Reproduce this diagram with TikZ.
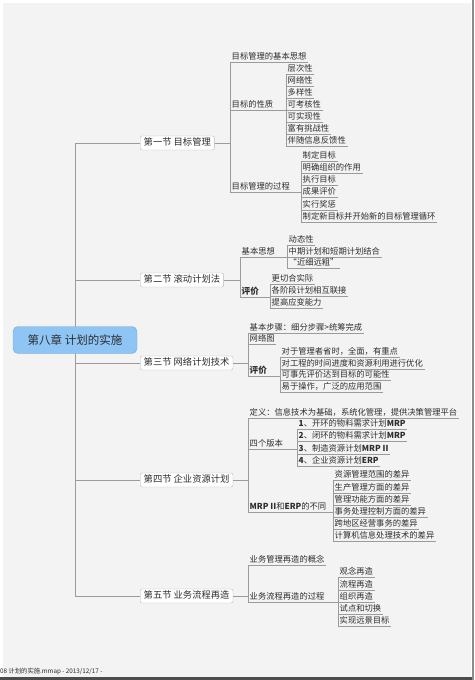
\documentclass[tikz,border=0pt]{standalone}
\usepackage{fontspec}
\setmainfont{Noto Sans CJK SC}
\definecolor{bggray}{RGB}{243,243,243}
\definecolor{linecol}{RGB}{155,155,155}
\definecolor{txt}{RGB}{45,45,45}
\definecolor{rootblue}{RGB}{142,197,245}
\definecolor{boxline}{RGB}{185,185,185}
\begin{document}
\begin{tikzpicture}[x=1pt, y=-1pt,
    link/.style={draw=linecol, line width=0.6pt},
    topic/.style={font=\fontsize{8.3}{10}\selectfont, text=txt, anchor=south west,
        inner xsep=1.5pt, inner ysep=1pt, text height=6.5pt, text depth=1.6pt,
        append after command={\pgfextra{\let\ulnode\tikzlastnode}
            (\ulnode.south west) edge[link] (\ulnode.south east)}},
    pingjia/.style={topic, font=\fontsize{8.6}{10}\selectfont\bfseries},
    section/.style={draw=boxline, fill=white, rounded corners=2pt, text=txt, anchor=west,
        font=\fontsize{9.3}{11}\selectfont, inner xsep=3.5pt, inner ysep=2.5pt,
        text height=7pt, text depth=2pt}]
    \useasboundingbox (0,0) rectangle (474,680);
    % page
    \fill[white] (0,0) rectangle (474,680);
    \fill[bggray] (3,3) rectangle (471,677);
    \fill[black!70] (0,677) rectangle (474,680);
    \fill[black!45] (472,0) rectangle (474,680);
    \node[anchor=west, inner sep=0pt, font=\fontsize{6.3}{7}\selectfont, text=txt] (foot) at (0,672) {08 计划的实施.mmap - 2013/12/17 -};

    % sections
    \node[section] (s1) at (140,143) {第一节 目标管理};
    \node[section] (s2) at (140,280) {第二节 滚动计划法};
    \node[section] (s3) at (140,363) {第三节 网络计划技术};
    \node[section] (s4) at (140,480) {第四节 企业资源计划};
    \node[section] (s5) at (140,596) {第五节 业务流程再造};

    % section 1
    \node[topic] (s1a) at (230,62) {目标管理的基本思想};
    \node[topic] (s1b) at (230,110) {目标的性质};
    \node[topic] (s1c) at (230,192) {目标管理的过程};
    \node[topic] (s1b1) at (286,74) {层次性};
    \node[topic] (s1b2) at (286,86) {网络性};
    \node[topic] (s1b3) at (286,98) {多样性};
    \node[topic] (s1b4) at (286,110) {可考核性};
    \node[topic] (s1b5) at (286,122) {可实现性};
    \node[topic] (s1b6) at (286,134) {富有挑战性};
    \node[topic] (s1b7) at (286,146) {伴随信息反馈性};
    \node[topic] (s1c1) at (301,161) {制定目标};
    \node[topic] (s1c2) at (301,173) {明确组织的作用};
    \node[topic] (s1c3) at (301,185.5) {执行目标};
    \node[topic] (s1c4) at (301,197.5) {成果评价};
    \node[topic] (s1c5) at (301,210) {实行奖惩};
    \node[topic] (s1c6) at (301,222) {制定新目标并开始新的目标管理循环};

    % section 2
    \node[topic] (s2a) at (240,257) {基本思想};
    \node[pingjia] (s2b) at (240,297.5) {评价};
    \node[topic] (s2a1) at (287,245.5) {动态性};
    \node[topic] (s2a2) at (287,257) {中期计划和短期计划结合};
    \node[topic] (s2a3) at (287,268.5) {“近细远粗”};
    \node[topic] (s2b1) at (270,284.5) {更切合实际};
    \node[topic] (s2b2) at (270,296.5) {各阶段计划相互联接};
    \node[topic] (s2b3) at (270,308) {提高应变能力};

    % section 3
    \node[topic] (s3a) at (248,333) {基本步骤：细分步骤>统筹完成};
    \node[topic] (s3b) at (248,344.5) {网络图};
    \node[pingjia] (s3c) at (248,376) {评价};
    \node[topic] (s3c1) at (280,357.5) {对于管理者省时，全面，有重点};
    \node[topic] (s3c2) at (280,369) {对工程的时间进度和资源利用进行优化};
    \node[topic] (s3c3) at (280,380.5) {可事先评价达到目标的可能性};
    \node[topic] (s3c4) at (280,392) {易于操作，广泛的应用范围};

    % section 4
    \node[topic] (s4a) at (248,418) {定义：信息技术为基础，系统化管理，提供决策管理平台};
    \node[topic] (s4b) at (248,449) {四个版本};
    \node[topic] (s4c) at (248,512.5) {\textbf{MRP II}和\textbf{ERP}的不同};
    \node[topic] (s4b1) at (297,429.5) {\textbf{1}、开环的物料需求计划\textbf{MRP}};
    \node[topic] (s4b2) at (297,441.7) {\textbf{2}、闭环的物料需求计划\textbf{MRP}};
    \node[topic] (s4b3) at (297,453.9) {\textbf{3}、制造资源计划\textbf{MRP II}};
    \node[topic] (s4b4) at (297,466) {\textbf{4}、企业资源计划\textbf{ERP}};
    \node[topic] (s4c1) at (333,480.7) {资源管理范围的差异};
    \node[topic] (s4c2) at (333,492.8) {生产管理方面的差异};
    \node[topic] (s4c3) at (333,504.9) {管理功能方面的差异};
    \node[topic] (s4c4) at (333,517) {事务处理控制方面的差异};
    \node[topic] (s4c5) at (333,529.1) {跨地区经营事务的差异};
    \node[topic] (s4c6) at (333,541.2) {计算机信息处理技术的差异};

    % section 5
    \node[topic] (s5a) at (248,565.7) {业务管理再造的概念};
    \node[topic] (s5b) at (248,602.3) {业务流程再造的过程};
    \node[topic] (s5b1) at (338,577.7) {观念再造};
    \node[topic] (s5b2) at (338,589.8) {流程再造};
    \node[topic] (s5b3) at (338,601.9) {组织再造};
    \node[topic] (s5b4) at (338,614) {试点和切换};
    \node[topic] (s5b5) at (338,626.1) {实现远景目标};

    % connectors
    \foreach \c in {s1a,s1b,s1c} \draw[link] (s1.east) -- (s1.east -| \c.south west) -- (\c.south west);
    \foreach \c in {s2a,s2b} \draw[link] (s2.east) -- (s2.east -| \c.south west) -- (\c.south west);
    \foreach \c in {s3a,s3b,s3c} \draw[link] (s3.east) -- (s3.east -| \c.south west) -- (\c.south west);
    \foreach \c in {s4a,s4b,s4c} \draw[link] (s4.east) -- (s4.east -| \c.south west) -- (\c.south west);
    \foreach \c in {s5a,s5b} \draw[link] (s5.east) -- (s5.east -| \c.south west) -- (\c.south west);
    \foreach \i in {1,...,7} \draw[link] (s1b.south east) -- (s1b.south east -| s1b\i.south west) -- (s1b\i.south west);
    \foreach \i in {1,...,6} \draw[link] (s1c.south east) -- (s1c.south east -| s1c\i.south west) -- (s1c\i.south west);
    \foreach \i in {1,2,3} \draw[link] (s2a.south east) -- (s2a.south east -| s2a\i.south west) -- (s2a\i.south west);
    \foreach \i in {1,2,3} \draw[link] (s2b.south east) -- (s2b.south east -| s2b\i.south west) -- (s2b\i.south west);
    \foreach \i in {1,...,4} \draw[link] (s3c.south east) -- (s3c.south east -| s3c\i.south west) -- (s3c\i.south west);
    \foreach \i in {1,...,4} \draw[link] (s4b.south east) -- (s4b.south east -| s4b\i.south west) -- (s4b\i.south west);
    \foreach \i in {1,...,6} \draw[link] (s4c.south east) -- (s4c.south east -| s4c\i.south west) -- (s4c\i.south west);
    \foreach \i in {1,...,5} \draw[link] (s5b.south east) -- (s5b.south east -| s5b\i.south west) -- (s5b\i.south west);

    % root and trunk
    \coordinate (trunk) at (75,340);
    \foreach \s in {s1,s2,s3,s4,s5} \draw[link] (trunk) |- (\s.west);
    \node[draw=rootblue!85!black, fill=rootblue, rounded corners=5pt, minimum width=124pt, minimum height=27pt,
        font=\fontsize{11.5}{13}\selectfont, text=txt] (root) at (trunk) {第八章 计划的实施};
\end{tikzpicture}
\end{document}
